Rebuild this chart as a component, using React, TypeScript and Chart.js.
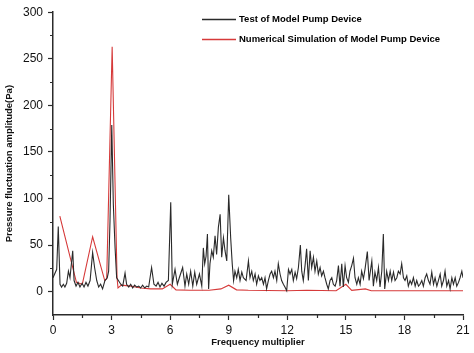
import React, { useEffect, useRef } from "react";
import { Chart, registerables } from "chart.js";

Chart.register(...registerables);

const TEST_LABEL = "Test of Model Pump Device";
const SIM_LABEL = "Numerical Simulation of Model Pump Device";
const X_TITLE = "Frequency multiplier";
const Y_TITLE = "Pressure fluctuation amplitude(Pa)";

const TEST_X = [
  0.0, 0.19, 0.27, 0.36, 0.44, 0.53, 0.61, 0.7, 0.79, 0.87, 1.01, 1.08, 1.18, 1.28, 1.38, 1.49, 1.59, 1.69, 1.79, 1.9,
  2.03, 2.13, 2.24, 2.34, 2.44, 2.54, 2.66, 2.78, 2.85, 2.92, 3.01, 3.09, 3.18, 3.26, 3.35, 3.47, 3.57, 3.69, 3.77, 3.88,
  3.98, 4.08, 4.18, 4.29, 4.39, 4.49, 4.59, 4.7, 4.8, 4.9, 5.05, 5.17, 5.28, 5.38, 5.48, 5.58, 5.69, 5.79, 5.91, 6.03,
  6.11, 6.25, 6.37, 6.47, 6.64, 6.76, 6.85, 6.95, 7.05, 7.16, 7.26, 7.36, 7.5, 7.62, 7.7, 7.77, 7.84, 7.91, 7.97, 8.04,
  8.13, 8.21, 8.3, 8.38, 8.47, 8.56, 8.64, 8.73, 8.81, 8.9, 9.0, 9.1, 9.18, 9.25, 9.32, 9.41, 9.49, 9.58, 9.67, 9.75,
  9.89, 10.01, 10.09, 10.18, 10.26, 10.35, 10.43, 10.52, 10.6, 10.69, 10.78, 10.86, 10.94, 11.03, 11.12, 11.2, 11.29, 11.37, 11.46, 11.54,
  11.63, 11.71, 11.8, 11.88, 11.97, 12.06, 12.14, 12.23, 12.31, 12.4, 12.48, 12.57, 12.67, 12.74, 12.82, 12.91, 12.99, 13.08, 13.17, 13.25,
  13.34, 13.42, 13.51, 13.59, 13.68, 13.76, 13.85, 13.93, 14.02, 14.1, 14.19, 14.28, 14.36, 14.45, 14.53, 14.62, 14.7, 14.79, 14.87, 14.96,
  15.04, 15.13, 15.21, 15.3, 15.39, 15.47, 15.56, 15.64, 15.73, 15.81, 15.9, 15.98, 16.1, 16.19, 16.33, 16.41, 16.49, 16.58, 16.67, 16.75,
  16.84, 16.92, 16.99, 17.09, 17.18, 17.27, 17.35, 17.44, 17.52, 17.61, 17.69, 17.78, 17.86, 17.95, 18.03, 18.12, 18.2, 18.29, 18.37, 18.46,
  18.55, 18.63, 18.72, 18.8, 18.89, 18.97, 19.06, 19.14, 19.23, 19.31, 19.4, 19.49, 19.57, 19.66, 19.74, 19.83, 19.91, 20.0, 20.08, 20.17,
  20.26, 20.34, 20.43, 20.51, 20.6, 20.68, 20.77, 20.85, 20.94, 21.0,
];
const TEST_Y = [
  15, 24, 70, 8, 5, 8, 5, 9, 22, 15, 44, 12, 6, 10, 5, 9, 5, 10, 6, 12,
  42, 26, 12, 5, 8, 3, 12, 15, 22, 76, 179, 94, 47, 15, 12, 8, 6, 20, 8, 5,
  8, 4, 7, 5, 6, 4, 7, 4, 6, 5, 26, 8, 6, 10, 5, 9, 6, 10, 12, 96,
  8, 24, 8, 15, 26, 6, 19, 8, 22, 6, 21, 8, 19, 6, 47, 30, 38, 62, 3, 30,
  44, 37, 60, 40, 69, 83, 37, 58, 44, 33, 104, 58, 30, 12, 22, 15, 24, 12, 21, 15,
  12, 33, 15, 22, 12, 19, 8, 17, 12, 15, 8, 15, 3, 12, 19, 22, 15, 22, 12, 30,
  19, 12, 8, 5, 1, 24, 19, 24, 12, 21, 14, 26, 50, 22, 12, 28, 46, 12, 44, 26,
  37, 22, 33, 19, 26, 17, 22, 15, 8, 3, 12, 15, 8, 6, 12, 28, 6, 30, 5, 28,
  15, 10, 22, 28, 36, 15, 8, 15, 8, 22, 14, 24, 43, 12, 33, 6, 21, 12, 26, 5,
  22, 62, 3, 22, 12, 22, 12, 21, 12, 15, 22, 19, 30, 15, 12, 17, 6, 12, 8, 15,
  6, 12, 6, 8, 12, 6, 15, 19, 12, 8, 21, 8, 15, 6, 12, 19, 6, 12, 22, 6,
  12, 3, 15, 8, 15, 6, 10, 15, 22, 15,
];

const SIM_X = [0.35, 1.2, 1.5, 2.03, 2.65, 2.75, 3.03, 3.28, 3.33, 3.5, 4.0, 4.5, 5.0, 5.6, 6.0, 6.3, 7.0, 8.0, 8.6, 9.0, 9.4, 10.0, 12.0, 13.0, 14.5, 15.0, 15.3, 16.0, 16.3, 21.0];
const SIM_Y = [81, 10, 8, 59, 12, 14, 263, 15, 4, 7, 6, 4, 3, 3, 8, 2, 1.5, 1.5, 3, 7, 2, 1.5, 1, 1.5, 1, 8, 1.5, 3, 1, 1];

const X_MAJOR = [0, 3, 6, 9, 12, 15, 18, 21];
const X_MINOR = [1.5, 4.5, 7.5, 10.5, 13.5, 16.5, 19.5];
const Y_MAJOR = [0, 50, 100, 150, 200, 250, 300];
const Y_MINOR = [25, 75, 125, 175, 225, 275];

const FONT = "'Liberation Sans', Arial, sans-serif";
const AXIS_COLOR = "#2b2b2b";
const TEST_COLOR = "#2a2a2a";
const SIM_COLOR = "#d63a3a";

const minorTicksPlugin = {
  id: "minorTicks",
  afterDraw(chart: any) {
    const ctx = chart.ctx;
    const xs = chart.scales.x;
    const ys = chart.scales.y;
    const area = chart.chartArea;
    ctx.save();
    ctx.strokeStyle = AXIS_COLOR;
    ctx.lineWidth = 1.2;
    ctx.beginPath();
    X_MINOR.forEach((v) => {
      const px = Math.round(xs.getPixelForValue(v)) + 0.5;
      ctx.moveTo(px, area.bottom);
      ctx.lineTo(px, area.bottom + 3);
    });
    Y_MINOR.forEach((v) => {
      const py = Math.round(ys.getPixelForValue(v)) + 0.5;
      ctx.moveTo(area.left, py);
      ctx.lineTo(area.left - 3, py);
    });
    ctx.stroke();
    ctx.restore();
  },
};

const legendPlugin = {
  id: "customLegend",
  afterDraw(chart: any) {
    const ctx = chart.ctx;
    ctx.save();
    ctx.font = `bold 9.5px ${FONT}`;
    ctx.textBaseline = "middle";
    ctx.textAlign = "left";
    const rows = [19, 39];
    const colors = [TEST_COLOR, SIM_COLOR];
    chart.data.datasets.forEach((ds: any, i: number) => {
      const y = rows[i];
      ctx.strokeStyle = colors[i];
      ctx.lineWidth = 1.3;
      ctx.beginPath();
      ctx.moveTo(202, y + 0.5);
      ctx.lineTo(236, y + 0.5);
      ctx.stroke();
      ctx.fillStyle = "#000";
      ctx.fillText(ds.label, 239, y);
    });
    ctx.restore();
  },
};

export default function App() {
  const ref = useRef<HTMLCanvasElement | null>(null);

  useEffect(() => {
    if (!ref.current) return;
    const testData = TEST_X.map((x, i) => ({ x, y: TEST_Y[i] }));
    const simData = SIM_X.map((x, i) => ({ x, y: SIM_Y[i] }));
    const chart = new Chart(ref.current, {
      type: "line",
      data: {
        datasets: [
          {
            label: TEST_LABEL,
            data: testData,
            borderColor: TEST_COLOR,
            borderWidth: 1.1,
            pointRadius: 0,
            tension: 0,
            fill: false,
          },
          {
            label: SIM_LABEL,
            data: simData,
            borderColor: SIM_COLOR,
            borderWidth: 1.1,
            pointRadius: 0,
            tension: 0,
            fill: false,
          },
        ],
      },
      options: {
        responsive: false,
        animation: false,
        layout: { padding: { top: 10, right: 11, left: 0, bottom: 0 } },
        plugins: {
          legend: { display: false },
          tooltip: { enabled: false },
        },
        scales: {
          x: {
            type: "linear",
            min: 0,
            max: 21,
            afterBuildTicks: (scale: any) => {
              scale.ticks = X_MAJOR.map((v) => ({ value: v }));
            },
            afterFit: (scale: any) => {
              scale.height = 38;
            },
            grid: {
              display: true,
              drawOnChartArea: false,
              drawTicks: true,
              tickLength: 5,
              tickColor: AXIS_COLOR,
              tickWidth: 1.2,
            },
            border: { display: true, color: AXIS_COLOR, width: 1.5 },
            ticks: {
              color: "#111",
              font: { family: FONT, size: 12 },
              padding: 3,
              maxRotation: 0,
            },
            title: {
              display: true,
              text: X_TITLE,
              color: "#111",
              font: { family: FONT, size: 9.5, weight: "bold" },
              padding: { top: 0, bottom: 5 },
            },
          },
          y: {
            type: "linear",
            min: -25,
            max: 300,
            afterBuildTicks: (scale: any) => {
              scale.ticks = Y_MAJOR.map((v) => ({ value: v }));
            },
            afterFit: (scale: any) => {
              scale.width = 53;
            },
            grid: {
              display: true,
              drawOnChartArea: false,
              drawTicks: true,
              tickLength: 5,
              tickColor: AXIS_COLOR,
              tickWidth: 1.2,
            },
            border: { display: true, color: AXIS_COLOR, width: 1.5 },
            ticks: {
              color: "#111",
              font: { family: FONT, size: 12 },
              padding: 5,
            },
            title: {
              display: true,
              text: Y_TITLE,
              color: "#111",
              font: { family: FONT, size: 9.5, weight: "bold" },
              padding: { top: 4, bottom: 0 },
            },
          },
        },
      },
      plugins: [minorTicksPlugin, legendPlugin],
    });
    return () => chart.destroy();
  }, []);

  return (
    <div style={{ position: "fixed", left: 0, top: 0, width: 474, height: 353, background: "#fff" }}>
      <canvas ref={ref} width={474} height={353} style={{ display: "block" }} />
    </div>
  );
}
